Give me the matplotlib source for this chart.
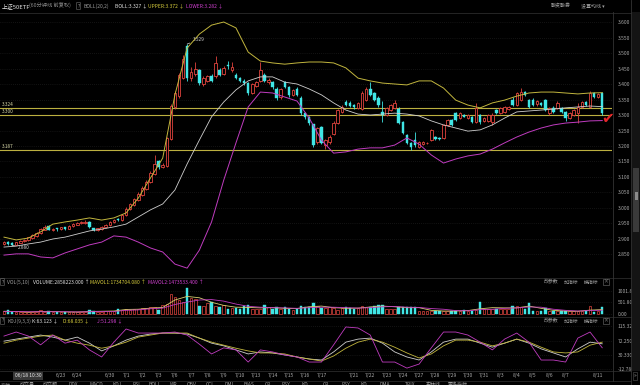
import numpy as np
import matplotlib
matplotlib.use('Agg')
import matplotlib.pyplot as plt
from matplotlib.patches import Rectangle

plt.rcParams['font.family'] = ['Noto Sans CJK SC', 'DejaVu Sans']

W, H = 640, 385
BG = '#000000'
RED = '#e0443e'
CYAN = '#40e6e6'
YEL = '#c2b63e'
WHT = '#cfcfcf'
MAG = '#c03cc0'
GRAY = '#9a9a9a'

## 60-minute bars, 6/18 10:30 .. 8/11 15:00 (4 per day)
opens = [
    2.884, 2.890, 2.886, 2.882, 2.888, 2.893, 2.896, 2.903, 2.910, 2.918,
    2.930, 2.942, 2.928, 2.934, 2.931, 2.938, 2.933, 2.941, 2.946, 2.953,
    2.951, 2.955, 2.935, 2.928, 2.932, 2.939, 2.945, 2.954, 2.963, 2.960,
    2.976, 2.996, 3.010, 3.026, 3.043, 3.062, 3.083, 3.110, 3.150, 3.132,
    3.136, 3.222, 3.325, 3.362, 3.420, 3.522, 3.420, 3.432, 3.445, 3.400,
    3.410, 3.425, 3.425, 3.445, 3.432, 3.462, 3.445, 3.430, 3.418, 3.410,
    3.403, 3.371, 3.395, 3.410, 3.430, 3.405, 3.406, 3.385, 3.358, 3.405,
    3.390, 3.365, 3.384, 3.356, 3.306, 3.294, 3.270, 3.213, 3.260, 3.203,
    3.213, 3.240, 3.274, 3.310, 3.342, 3.339, 3.332, 3.323, 3.320, 3.350,
    3.384, 3.371, 3.355, 3.310, 3.300, 3.316, 3.323, 3.320, 3.277, 3.235,
    3.210, 3.218, 3.197, 3.206, 3.210, 3.219, 3.229, 3.226, 3.226, 3.268,
    3.284, 3.306, 3.290, 3.300, 3.290, 3.294, 3.277, 3.300, 3.281, 3.281,
    3.277, 3.316, 3.306, 3.310, 3.319, 3.348, 3.332, 3.348, 3.374, 3.348,
    3.348, 3.336, 3.339, 3.348, 3.306, 3.323, 3.323, 3.323, 3.310, 3.290,
    3.300, 3.306, 3.326, 3.342, 3.326, 3.371, 3.358, 3.371]
closes = [
    2.890, 2.884, 2.882, 2.889, 2.894, 2.897, 2.905, 2.912, 2.920, 2.932,
    2.940, 2.930, 2.932, 2.931, 2.938, 2.932, 2.942, 2.948, 2.952, 2.953,
    2.956, 2.940, 2.928, 2.934, 2.940, 2.946, 2.955, 2.961, 2.960, 2.978,
    2.998, 3.012, 3.028, 3.045, 3.065, 3.085, 3.112, 3.142, 3.132, 3.140,
    3.225, 3.330, 3.370, 3.430, 3.480, 3.420, 3.440, 3.448, 3.403, 3.418,
    3.425, 3.410, 3.468, 3.430, 3.452, 3.458, 3.455, 3.420, 3.410, 3.403,
    3.371, 3.400, 3.405, 3.445, 3.410, 3.412, 3.390, 3.356, 3.384, 3.390,
    3.364, 3.380, 3.365, 3.306, 3.294, 3.274, 3.203, 3.258, 3.210, 3.219,
    3.229, 3.274, 3.316, 3.326, 3.332, 3.329, 3.326, 3.339, 3.371, 3.384,
    3.365, 3.350, 3.332, 3.300, 3.322, 3.332, 3.339, 3.274, 3.242, 3.210,
    3.197, 3.203, 3.213, 3.213, 3.210, 3.252, 3.224, 3.222, 3.268, 3.284,
    3.268, 3.284, 3.306, 3.295, 3.300, 3.277, 3.322, 3.277, 3.290, 3.300,
    3.300, 3.306, 3.322, 3.326, 3.326, 3.332, 3.371, 3.374, 3.365, 3.326,
    3.332, 3.345, 3.332, 3.316, 3.322, 3.310, 3.339, 3.310, 3.290, 3.306,
    3.316, 3.326, 3.342, 3.332, 3.371, 3.358, 3.368, 3.306]
highs = [
    2.893, 2.892, 2.889, 2.891, 2.897, 2.900, 2.908, 2.915, 2.923, 2.935,
    2.944, 2.945, 2.935, 2.937, 2.940, 2.940, 2.944, 2.952, 2.955, 2.957,
    2.960, 2.957, 2.937, 2.936, 2.942, 2.948, 2.958, 2.965, 2.967, 2.982,
    3.002, 3.016, 3.033, 3.050, 3.070, 3.090, 3.118, 3.171, 3.155, 3.145,
    3.230, 3.335, 3.378, 3.436, 3.492, 3.529, 3.455, 3.470, 3.450, 3.425,
    3.430, 3.432, 3.490, 3.452, 3.458, 3.475, 3.470, 3.435, 3.422, 3.415,
    3.406, 3.403, 3.410, 3.470, 3.435, 3.418, 3.410, 3.390, 3.388, 3.410,
    3.395, 3.385, 3.390, 3.360, 3.310, 3.298, 3.272, 3.262, 3.263, 3.224,
    3.234, 3.280, 3.320, 3.332, 3.348, 3.345, 3.336, 3.342, 3.376, 3.390,
    3.405, 3.375, 3.360, 3.345, 3.326, 3.336, 3.350, 3.325, 3.280, 3.240,
    3.214, 3.245, 3.217, 3.216, 3.214, 3.256, 3.233, 3.230, 3.272, 3.288,
    3.287, 3.310, 3.310, 3.304, 3.304, 3.297, 3.339, 3.304, 3.294, 3.303,
    3.306, 3.320, 3.326, 3.330, 3.330, 3.358, 3.375, 3.387, 3.378, 3.352,
    3.355, 3.350, 3.343, 3.352, 3.326, 3.328, 3.345, 3.326, 3.313, 3.310,
    3.320, 3.339, 3.346, 3.346, 3.378, 3.375, 3.372, 3.374]
lows = [
    2.882, 2.881, 2.880, 2.881, 2.886, 2.890, 2.894, 2.901, 2.908, 2.916,
    2.928, 2.928, 2.925, 2.926, 2.929, 2.930, 2.931, 2.939, 2.944, 2.949,
    2.949, 2.937, 2.925, 2.926, 2.930, 2.937, 2.943, 2.952, 2.957, 2.958,
    2.973, 2.993, 3.007, 3.022, 3.040, 3.058, 3.080, 3.105, 3.125, 3.128,
    3.132, 3.218, 3.318, 3.355, 3.415, 3.410, 3.410, 3.425, 3.398, 3.395,
    3.405, 3.405, 3.420, 3.425, 3.428, 3.450, 3.440, 3.415, 3.405, 3.398,
    3.366, 3.368, 3.390, 3.405, 3.405, 3.400, 3.385, 3.350, 3.352, 3.386,
    3.358, 3.360, 3.360, 3.300, 3.288, 3.268, 3.198, 3.208, 3.205, 3.190,
    3.208, 3.236, 3.270, 3.305, 3.328, 3.325, 3.320, 3.318, 3.316, 3.345,
    3.360, 3.345, 3.326, 3.278, 3.296, 3.312, 3.318, 3.270, 3.238, 3.205,
    3.187, 3.198, 3.194, 3.202, 3.205, 3.216, 3.220, 3.218, 3.222, 3.264,
    3.264, 3.280, 3.286, 3.292, 3.286, 3.273, 3.274, 3.272, 3.277, 3.277,
    3.268, 3.302, 3.302, 3.306, 3.315, 3.328, 3.328, 3.344, 3.360, 3.322,
    3.328, 3.330, 3.328, 3.312, 3.300, 3.306, 3.318, 3.306, 3.281, 3.286,
    3.296, 3.275, 3.322, 3.328, 3.322, 3.354, 3.354, 3.300]
volume = [  # 万
    100, 170, 60, 50, 60, 50, 60, 70, 60, 170,
    80, 90, 60, 50, 60, 70, 60, 70, 60, 60,
    80, 170, 90, 70, 80, 90, 100, 110, 200, 170,
    190, 170, 200, 210, 230, 250, 270, 300, 170, 400,
    420, 870, 730, 600, 520, 1130, 680, 640, 330, 330,
    470, 530, 330, 270, 400, 200, 260, 260, 200, 330,
    360, 200, 200, 200, 360, 270, 200, 270, 200, 270,
    200, 170, 200, 330, 300, 300, 470, 330, 230, 230,
    270, 230, 170, 230, 270, 230, 200, 230, 330, 270,
    300, 330, 360, 360, 200, 180, 200, 270, 300, 270,
    300, 270, 120, 100, 90, 120, 110, 100, 120, 110,
    100, 120, 110, 150, 120, 110, 150, 500, 200, 210,
    210, 200, 200, 190, 210, 330, 330, 300, 200, 470,
    120, 100, 110, 230, 110, 100, 110, 100, 120, 100,
    90, 110, 100, 110, 330, 60, 90, 286]

## indicator values read every 3 bars
ind_idx = list(range(0, 148, 3))
boll_upper = [2.906, 2.897, 2.903, 2.923, 2.948, 2.955, 2.961, 2.968, 2.961, 2.968,
              2.984, 3.032, 3.097, 3.161, 3.365, 3.516, 3.561, 3.590, 3.600, 3.581,
              3.503, 3.474, 3.468, 3.464, 3.468, 3.471, 3.471, 3.468, 3.452, 3.419,
              3.410, 3.403, 3.400, 3.397, 3.410, 3.410, 3.387, 3.348, 3.332, 3.323,
              3.339, 3.348, 3.361, 3.371, 3.374, 3.374, 3.371, 3.368, 3.371, 3.372]
boll_mid = [2.874, 2.877, 2.884, 2.890, 2.900, 2.906, 2.916, 2.926, 2.932, 2.939,
            2.948, 2.971, 2.994, 3.013, 3.058, 3.142, 3.219, 3.294, 3.342, 3.381,
            3.410, 3.423, 3.423, 3.406, 3.400, 3.384, 3.365, 3.339, 3.316, 3.303,
            3.300, 3.303, 3.306, 3.303, 3.297, 3.281, 3.268, 3.258, 3.248, 3.252,
            3.268, 3.290, 3.310, 3.313, 3.316, 3.319, 3.323, 3.326, 3.329, 3.327]
boll_lower = [2.848, 2.852, 2.852, 2.842, 2.839, 2.855, 2.868, 2.881, 2.890, 2.910,
              2.906, 2.890, 2.871, 2.858, 2.819, 2.806, 2.864, 2.955, 3.090, 3.210,
              3.326, 3.374, 3.371, 3.358, 3.345, 3.290, 3.219, 3.177, 3.181, 3.190,
              3.194, 3.194, 3.203, 3.226, 3.206, 3.171, 3.145, 3.158, 3.168, 3.174,
              3.190, 3.210, 3.229, 3.245, 3.258, 3.268, 3.274, 3.277, 3.281, 3.282]
mavol1 = [100, 90, 60, 90, 90, 70, 65, 90, 100, 110, 180, 190, 240, 270, 600, 760, 700, 500, 360, 280,
          270, 250, 260, 230, 220, 300, 330, 260, 230, 240, 290, 330, 300, 260, 260, 140, 110, 110, 130, 210,
          260, 250, 250, 330, 230, 140, 110, 100, 150, 173.5]
mavol2 = [90, 90, 80, 80, 80, 80, 70, 80, 90, 90, 140, 160, 210, 240, 400, 510, 600, 620, 550, 420,
          320, 280, 260, 250, 230, 260, 280, 280, 260, 240, 260, 300, 310, 280, 270, 220, 190, 130, 120, 170,
          190, 230, 250, 290, 280, 190, 140, 110, 130, 147.4]
kdj_k = [71, 77, 83, 89, 83, 74, 83, 65, 42, 57, 74, 86, 92, 95, 95, 92, 80, 65, 57, 45,
         33, 39, 36, 30, 24, 18, 15, 39, 68, 77, 80, 65, 39, 24, 15, 39, 68, 77, 77, 65,
         53, 65, 77, 65, 48, 36, 24, 48, 68, 63.1]
kdj_d = [65, 74, 80, 86, 89, 74, 65, 59, 50, 57, 68, 83, 89, 95, 95, 95, 80, 68, 59, 50,
         42, 36, 36, 33, 24, 18, 12, 27, 50, 68, 77, 68, 53, 36, 21, 33, 57, 74, 74, 68,
         57, 65, 77, 68, 53, 39, 36, 39, 59, 68.0]
kdj_j = [86, 98, 86, 60, 89, 65, 74, 45, 24, 68, 107, 95, 95, 95, 98, 89, 62, 33, 51, 45,
         9, 45, 39, 30, 24, 9, 9, 60, 113, 110, 89, 9, 9, -9, 3, 51, 98, 98, 89, 68,
         45, 77, 95, 68, 15, 15, 9, 80, 98, 51.3]

price_lines = [3.324, 3.300, 3.187]
price_ticks = [2.85, 2.90, 2.95, 3.00, 3.05, 3.10, 3.15, 3.20, 3.25, 3.30, 3.35, 3.40, 3.45, 3.50, 3.55, 3.60]
vol_ticks = [0.0, 501.8, 1001.8]
kdj_ticks = [-12.78, 30.33, 72.25, 115.32]

date_labels = ['6/23', '6/24', '6/30', '7/1', '7/2', '7/3', '7/6', '7/7', '7/8', '7/9', '7/10',
               '7/13', '7/14', '7/15', '7/16', '7/17', '7/21', '7/22', '7/23', '7/24', '7/27',
               '7/28', '7/29', '7/30', '7/31', '8/3', '8/4', '8/5', '8/6', '8/7', '8/11']
date_day = [3, 4, 6, 7, 8, 9, 10, 11, 12, 13, 14, 15, 16, 17, 18, 19, 21, 22, 23, 24, 25,
            26, 27, 28, 29, 30, 31, 32, 33, 34, 36]

tabs = ['指标', '成交量', '成交额', 'DDX', 'MACD', 'KDJ', 'RSI', 'BOLL', 'WR', 'OBV', 'CCI', 'DMI',
        'BIAS', 'CR', 'PSY', 'KD', 'CR', 'PSY', 'KD', 'DMA', 'TRIX', '布林线', '更多指标']
tab_x = [6, 27, 50, 73, 96, 117, 136, 155, 174, 192, 210, 229, 249, 268, 286, 305, 326, 346,
         364, 385, 410, 433, 458]

XL = (-0.98, 149.4)

fig = plt.figure(figsize=(6.4, 3.85), dpi=100, facecolor=BG)


def px_rect(x0, y0, x1, y1):
    return [x0 / W, 1 - y1 / H, (x1 - x0) / W, (y1 - y0) / H]


def ftext(x, y, s, color=GRAY, size=3.6, ha='left', **kw):
    return fig.text(x / W, 1 - y / H, s, color=color, fontsize=size, ha=ha, va='center', **kw)


def fline(x0, y0, x1, y1, color='#2a2a2a', lw=0.6):
    fig.add_artist(plt.Line2D([x0 / W, x1 / W], [1 - y0 / H, 1 - y1 / H], color=color, lw=lw,
                              transform=fig.transFigure))


def frect(x0, y0, x1, y1, fc, ec='none', lw=0.5):
    fig.add_artist(Rectangle((x0 / W, 1 - y1 / H), (x1 - x0) / W, (y1 - y0) / H, fc=fc, ec=ec, lw=lw,
                             transform=fig.transFigure))


def qbox(x, y):
    ftext(x, y, '?', color='#b0b0b0', size=3.2, ha='center',
          bbox=dict(boxstyle='round,pad=0.25', fc='none', ec='#707070', lw=0.4))


def style(ax, ylim, ticks, labels):
    ax.set_facecolor(BG)
    ax.set_xlim(XL)
    ax.set_ylim(ylim)
    for s in ax.spines.values():
        s.set_visible(False)
    ax.set_xticks([])
    ax.yaxis.tick_right()
    ax.set_yticks(ticks)
    ax.set_yticklabels(labels)
    ax.tick_params(axis='y', length=0, pad=4, labelsize=3.6, labelcolor='#a8a8a8')
    for t in ticks:
        ax.axhline(t, color='#262626', lw=0.5, ls=(0, (1, 2)), zorder=0)


x = np.arange(len(closes))
o = np.array(opens)
c = np.array(closes)
up = c >= o
cols = np.where(up, RED, CYAN)

## price panel
ax = fig.add_axes(px_rect(0, 12, 612, 276))
style(ax, (2.7806, 3.6323), price_ticks, ['%.3f' % t for t in price_ticks])
ax.vlines(x, lows, highs, colors=cols, lw=0.6, zorder=2)
bot = np.minimum(o, c)
hgt = np.maximum(np.abs(c - o), 0.0012)
ax.bar(x[up], hgt[up], bottom=bot[up], width=0.62, facecolor=BG, edgecolor=RED, lw=0.6, zorder=3)
ax.bar(x[~up], hgt[~up], bottom=bot[~up], width=0.62, facecolor=CYAN, edgecolor=CYAN, lw=0.3, zorder=3)
for lv in price_lines:
    ax.axhline(lv, color='#bcb040', lw=0.8, zorder=1)
    ax.text(-0.6, lv + 0.002, '%.3f' % lv, color='#d8d8a8', fontsize=3.4, va='bottom', ha='left')
ax.plot(ind_idx, boll_upper, color=YEL, lw=0.7, zorder=4)
ax.plot(ind_idx, boll_mid, color=WHT, lw=0.6, zorder=4)
ax.plot(ind_idx, boll_lower, color=MAG, lw=0.7, zorder=4)
imax = int(np.argmax(highs))
imin = int(np.argmin(lows))
ax.annotate('%.3f' % highs[imax], xy=(imax, highs[imax]), xytext=(4, 3), textcoords='offset points',
            color='#d0d0d0', fontsize=3.4, va='center',
            arrowprops=dict(arrowstyle='-', color='#d0d0d0', lw=0.5, shrinkA=0, shrinkB=0))
ax.annotate('%.3f' % lows[imin], xy=(imin, lows[imin]), xytext=(4, -2), textcoords='offset points',
            color='#d0d0d0', fontsize=3.4, va='center',
            arrowprops=dict(arrowstyle='-', color='#d0d0d0', lw=0.5, shrinkA=0, shrinkB=0))
ax.text(len(closes) + 0.4, closes[-1] - 0.016, '\u2714', color='#e8262a', fontsize=11,
        ha='center', va='center', family=['DejaVu Sans'], zorder=6, clip_on=False)

## volume panel
axv = fig.add_axes(px_rect(0, 279, 612, 316))
style(axv, (-111, 1535), vol_ticks, ['0.00', '501.80', '1001.80'])
vol = np.array(volume)
axv.bar(x[up], vol[up], width=0.62, facecolor=BG, edgecolor=RED, lw=0.5)
axv.bar(x[~up], vol[~up], width=0.62, facecolor=CYAN, edgecolor=CYAN, lw=0.3)
axv.plot(ind_idx, mavol1, color='#d8d070', lw=0.6)
axv.plot(ind_idx, mavol2, color=MAG, lw=0.6)

## KDJ panel
axk = fig.add_axes(px_rect(0, 318, 612, 370))
style(axk, (-14.6, 139.6), kdj_ticks, ['-12.780', '30.330', '72.250', '115.320'])
axk.plot(ind_idx, kdj_k, color=WHT, lw=0.6)
axk.plot(ind_idx, kdj_d, color=YEL, lw=0.6)
axk.plot(ind_idx, kdj_j, color=MAG, lw=0.6)

## date strip
axd = fig.add_axes(px_rect(0, 371, 612, 381))
axd.set_facecolor(BG)
axd.set_xlim(XL)
axd.set_ylim(0, 1)
axd.axis('off')
for lab, d in zip(date_labels, date_day):
    axd.text(4 * d + 2, 0.5, lab, color='#a8a8a8', fontsize=3.6, ha='center', va='center')
ftext(28, 376, '06/18 10:30', color='#e8e8e8', size=3.6, ha='center',
      bbox=dict(boxstyle='square,pad=0.35', fc='#383838', ec='none'))

## frame lines
fline(0, 12.5, 631, 12.5)
fline(0, 277.5, 631, 277.5)
fline(0, 317, 631, 317)
fline(0, 371, 631, 371)
fline(0, 381, 631, 381)
fline(612.5, 12, 612.5, 381, color='#333333')
fline(631, 0, 631, 385, color='#333333')

## scrollbar
frect(632, 12, 640, 371, '#141414')
frect(633, 168, 639, 232, '#3a3a3a')
frect(634.5, 192, 637.5, 200, '#8a8a8a')
ftext(635, 376, '»', color='#a0a0a0', size=4, ha='center',
      bbox=dict(boxstyle='square,pad=0.2', fc='none', ec='#555555', lw=0.4))

## title bar
ftext(2, 6, '上证50ETF', color='#e8e8e8', size=4.2)
ftext(29, 6, '(60分钟线 前复权)', color='#8a8a8a', size=3.8)
qbox(78.5, 6)
ftext(84, 6, 'BOLL(20,2)', color='#9a9a9a')
ftext(115, 6, 'BOLL:3.327 \u2193', color='#e0e0e0')
ftext(148, 6, 'UPPER:3.372 \u2193', color='#d6cc3c')
ftext(186, 6, 'LOWER:3.282 \u2193', color='#d040d0')
ftext(551, 6, '融资融券', color='#a0a0a0', size=3.6)
ftext(581, 6, '设置均线 \u25be', color='#a0a0a0', size=3.6)

## volume / KDJ headers
for yy in (282, 321):
    qbox(2.5, yy)
    ftext(544, yy, '改参数', size=3.5)
    ftext(564, yy, '加指标', size=3.5)
    ftext(584, yy, '换指标', size=3.5)
    ftext(606, yy, '×', size=3.5, ha='center',
          bbox=dict(boxstyle='square,pad=0.15', fc='none', ec='#707070', lw=0.4))
ftext(7, 282, 'VOL(5,10)')
ftext(33, 282, 'VOLUME:2858223.000 \u2191', color='#e0e0e0')
ftext(90, 282, 'MAVOL1:1734704.080 \u2191', color='#d6cc3c')
ftext(148, 282, 'MAVOL2:1473533.400 \u2191', color='#d040d0')
ftext(7, 321, 'KDJ(9,3,3)')
ftext(32, 321, 'K:63.123 \u2193', color='#e0e0e0')
ftext(63, 321, 'D:68.035 \u2193', color='#d6cc3c')
ftext(97, 321, 'J:51.298 \u2193', color='#d040d0')

## tab row (only its top shows above the bottom edge, as in the screenshot)
for t, tx in zip(tabs, tab_x):
    ftext(tx, 385, t, color='#9a9a9a', size=3.6, ha='center')

fig.savefig('out.png', dpi=100, facecolor=BG)
